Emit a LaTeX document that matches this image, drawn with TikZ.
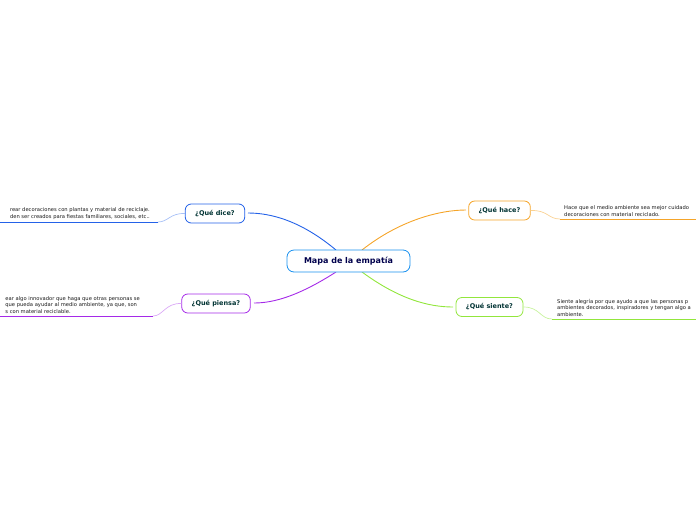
\documentclass[tikz,border=0pt]{standalone}
\usepackage{fontspec}
\setmainfont{DejaVu Sans}
\begin{document}
\begin{tikzpicture}[x=1pt,y=-1pt,
  topic/.style={draw,rounded corners=6pt,line width=0.8pt,fill=white,text=teal!40!black,font=\bfseries\fontsize{6.5}{7}\selectfont,minimum height=19pt,inner xsep=10pt},
  small/.style={font=\fontsize{5.2}{6.5}\selectfont,text=black!90,align=left,inner sep=0pt}]
\useasboundingbox (0,0) rectangle (696,520);
\clip (0,0) rectangle (696,520);
\definecolor{cb}{HTML}{2462E8}
\definecolor{cp}{HTML}{A52AE8}
\definecolor{co}{HTML}{F5A52A}
\definecolor{cg}{HTML}{92E63C}
% connectors
\coordinate (c1) at (336,250); \coordinate (c2) at (362,250);
\coordinate (c3) at (336,272); \coordinate (c4) at (362,272);
\draw[cb,line width=0.9pt] (c1) .. controls (300,220) and (270,213) .. (248,213);
\draw[cp,line width=0.9pt] (c3) .. controls (300,295) and (275,303) .. (254,303);
\draw[co,line width=0.9pt] (c2) .. controls (400,220) and (440,210) .. (466,210);
\draw[cg,line width=0.9pt] (c4) .. controls (400,300) and (430,307) .. (453,307);
\node[topic,draw=cb] (dice) at (215,213.5) {¿Qué dice?};
\node[topic,draw=cp] (piensa) at (216,303.5) {¿Qué piensa?};
\node[topic,draw=co] (hace) at (499.5,210.5) {¿Qué hace?};
\node[topic,draw=cg] (siente) at (489.5,307) {¿Qué siente?};
\node[draw=cb!70!cyan,rounded corners=7pt,line width=0.8pt,fill=white,text=blue!30!black,font=\bfseries\fontsize{8}{9}\selectfont,minimum width=123pt,minimum height=22pt] (main) at (348.5,261) {Mapa de la empatía};
% sub-branches
\coordinate (d1) at (158,222); \coordinate (d0) at (0,222);
\draw[cb!40,line width=0.7pt] (dice.west) .. controls (170,213) and (168,222) .. (d1);
\draw[cb,line width=1pt] (d1) -- (d0);
\node[small,anchor=south east] (dt) at (150,219.5) {rear decoraciones con plantas y material de reciclaje.\\den ser creados para fiestas familiares, sociales, etc..};
\coordinate (p1) at (153,316); \coordinate (p0) at (0,316);
\draw[cp!40,line width=0.7pt] (piensa.west) .. controls (165,303) and (163,316) .. (p1);
\draw[cp,line width=1pt] (p1) -- (p0);
\node[small,anchor=south east] (pt) at (140,313.5) {ear algo innovador que haga que otras personas se\\que pueda ayudar al medio ambiente, ya que, son\\s con material reciclable.};
\coordinate (h1) at (560,219); \coordinate (h0) at (696,219);
\draw[co!50,line width=0.7pt] (hace.east) .. controls (548,210) and (548,219) .. (h1);
\draw[co,line width=1pt] (h1) -- (h0);
\node[small,anchor=south west] (ht) at (564,216.5) {Hace que el medio ambiente sea mejor cuidado\\decoraciones con material reciclado.};
\coordinate (s1) at (552,319); \coordinate (s0) at (696,319);
\draw[cg!50,line width=0.7pt] (siente.east) .. controls (540,307) and (540,319) .. (s1);
\draw[cg,line width=1pt] (s1) -- (s0);
\node[small,anchor=south west] (st) at (557,316.5) {Siente alegría por que ayudo a que las personas p\\ambientes decorados, inspiradores y tengan algo a\\ambiente.};
\end{tikzpicture}
\end{document}
